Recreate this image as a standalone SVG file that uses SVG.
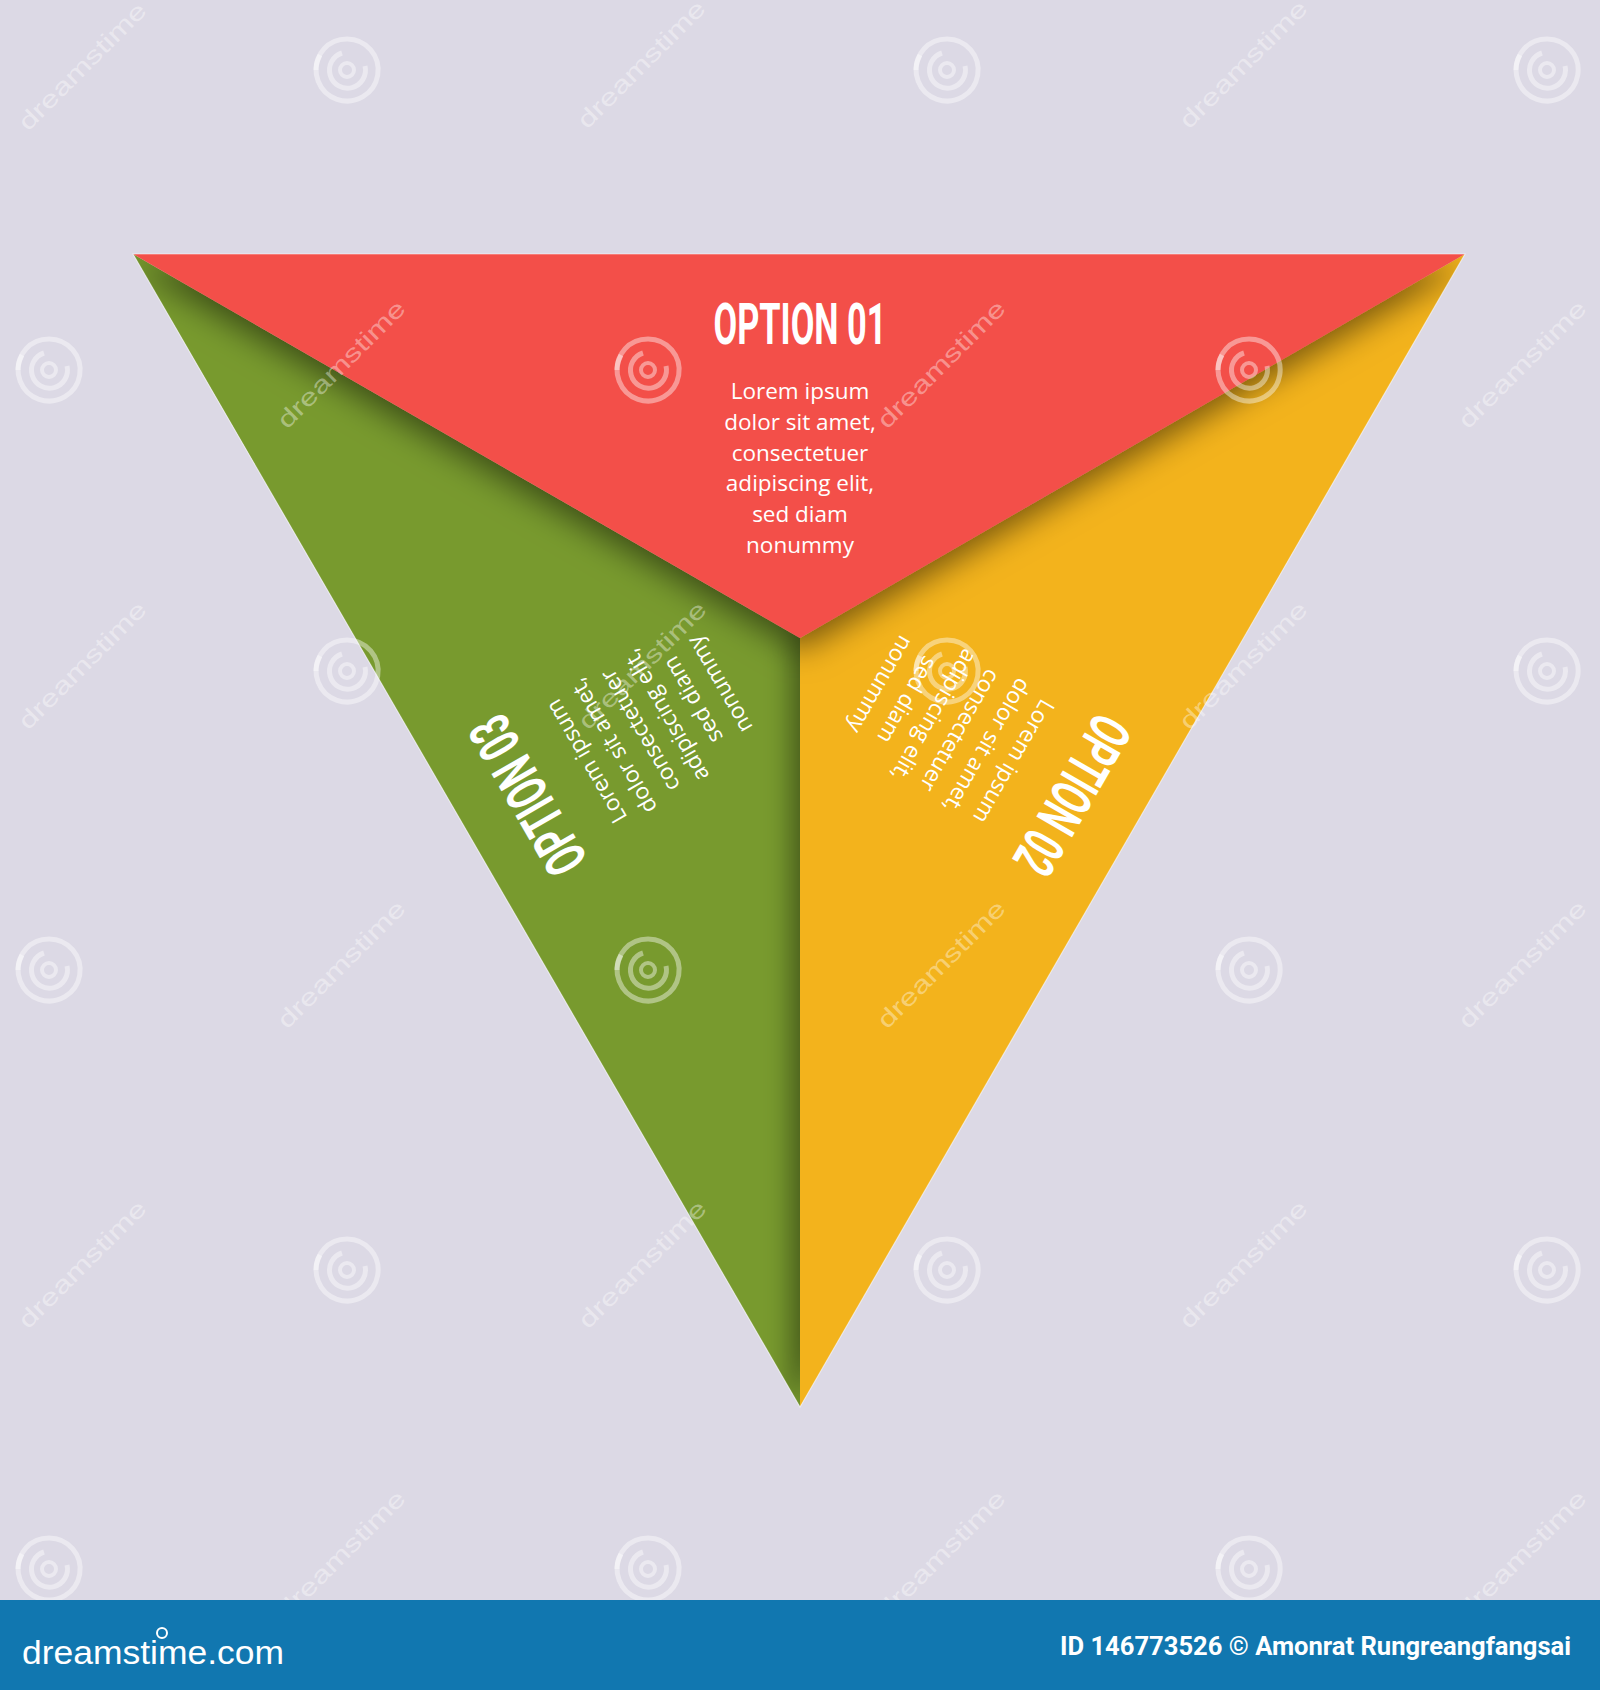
<svg xmlns="http://www.w3.org/2000/svg" xmlns:xlink="http://www.w3.org/1999/xlink" width="1600" height="1690" viewBox="0 0 1600 1690">
<style>
.title{font-family:Roboto,"Liberation Sans",sans-serif;font-weight:700;font-size:58px;fill:#ffffff;text-anchor:middle}
.body{font-family:"Open Sans","Liberation Sans",sans-serif;font-size:22.5px;fill:#ffffff;text-anchor:middle}
.wmt{font-family:"Liberation Sans",sans-serif;font-size:24px;fill:#ffffff;fill-opacity:0.4;text-anchor:middle}
.sp{fill:none;stroke:#ffffff;stroke-opacity:0.42}
.logo{font-family:"Liberation Sans",sans-serif;font-weight:400;font-size:33px;fill:#ffffff}
.credit{font-family:Roboto,"Liberation Sans",sans-serif;font-weight:700;font-size:25px;fill:#ffffff;text-anchor:end}
</style>
<defs>
<clipPath id="tri"><polygon points="133,254 1465,254 800,1407"/></clipPath>
<filter id="shRed" x="-10%" y="-10%" width="120%" height="140%">
<feDropShadow dx="0" dy="12" stdDeviation="16" flood-color="#000" flood-opacity="0.5"/>
</filter>
<filter id="shYel" x="-20%" y="-10%" width="140%" height="120%">
<feDropShadow dx="-9" dy="0" stdDeviation="13" flood-color="#000" flood-opacity="0.42"/>
</filter>
<symbol id="spiral" viewBox="-40 -40 80 80" overflow="visible">
<path class="sp" stroke-width="5" d="M 0,-31 A 31,31 0 1 1 -27,-15"/>
<path class="sp" stroke-width="5" d="M 0,-31 C -20,-31 -31,-15 -31,0 M 18,-4 A 18,18 0 1 1 -5,-17"/>
<circle class="sp" stroke-width="4" cx="0" cy="0" r="7"/>
</symbol>
</defs>
<rect x="0" y="0" width="1600" height="1690" fill="#DCD9E5"/>

<g clip-path="url(#tri)">
<g id="node-option03">
<polygon points="133,254 800,638 800,1407" fill="#789A2E"/>
</g>
<g id="node-option02" filter="url(#shYel)">
<polygon points="1465,254 800,638 800,1407" fill="#F3B31A"/>
</g>
<g id="node-option01" filter="url(#shRed)">
<polygon points="133,254 1465,254 800,638" fill="#F3504A"/>
</g>
</g>
<polygon points="133,254 1465,254 800,1407" fill="none" stroke="#ffffff" stroke-opacity="0.5" stroke-width="1.2"/>

<g id="label-option01">
<text class="title" x="800" y="344" textLength="173" lengthAdjust="spacingAndGlyphs">OPTION 01</text>
<text class="body" x="800" y="399">Lorem ipsum</text>
<text class="body" x="800" y="430">dolor sit amet,</text>
<text class="body" x="800" y="461">consectetuer</text>
<text class="body" x="800" y="491">adipiscing elit,</text>
<text class="body" x="800" y="522">sed diam</text>
<text class="body" x="800" y="553">nonummy</text>
</g>
<g id="label-option02" transform="rotate(120 800 638)">
<text class="title" x="800" y="344" textLength="173" lengthAdjust="spacingAndGlyphs">OPTION 02</text>
<text class="body" x="800" y="399">Lorem ipsum</text>
<text class="body" x="800" y="430">dolor sit amet,</text>
<text class="body" x="800" y="461">consectetuer</text>
<text class="body" x="800" y="491">adipiscing elit,</text>
<text class="body" x="800" y="522">sed diam</text>
<text class="body" x="800" y="553">nonummy</text>
</g>
<g id="label-option03" transform="rotate(-120 800 638)">
<text class="title" x="800" y="344" textLength="173" lengthAdjust="spacingAndGlyphs">OPTION 03</text>
<text class="body" x="800" y="399">Lorem ipsum</text>
<text class="body" x="800" y="430">dolor sit amet,</text>
<text class="body" x="800" y="461">consectetuer</text>
<text class="body" x="800" y="491">adipiscing elit,</text>
<text class="body" x="800" y="522">sed diam</text>
<text class="body" x="800" y="553">nonummy</text>
</g>

<g id="connectors"></g>

<g id="watermark">
<use href="#spiral" x="307" y="30" width="80" height="80"/>
<use href="#spiral" x="907" y="30" width="80" height="80"/>
<use href="#spiral" x="1507" y="30" width="80" height="80"/>
<use href="#spiral" x="9" y="330" width="80" height="80"/>
<use href="#spiral" x="608" y="330" width="80" height="80"/>
<use href="#spiral" x="1209" y="330" width="80" height="80"/>
<use href="#spiral" x="307" y="631" width="80" height="80"/>
<use href="#spiral" x="907" y="631" width="80" height="80"/>
<use href="#spiral" x="1507" y="631" width="80" height="80"/>
<use href="#spiral" x="9" y="930" width="80" height="80"/>
<use href="#spiral" x="608" y="930" width="80" height="80"/>
<use href="#spiral" x="1209" y="930" width="80" height="80"/>
<use href="#spiral" x="307" y="1230" width="80" height="80"/>
<use href="#spiral" x="907" y="1230" width="80" height="80"/>
<use href="#spiral" x="1507" y="1230" width="80" height="80"/>
<use href="#spiral" x="9" y="1529" width="80" height="80"/>
<use href="#spiral" x="608" y="1529" width="80" height="80"/>
<use href="#spiral" x="1209" y="1529" width="80" height="80"/>
<text class="wmt" transform="translate(88 72) rotate(-45)" textLength="170" lengthAdjust="spacingAndGlyphs">dreamstime</text>
<text class="wmt" transform="translate(647 70) rotate(-45)" textLength="170" lengthAdjust="spacingAndGlyphs">dreamstime</text>
<text class="wmt" transform="translate(1249 70) rotate(-45)" textLength="170" lengthAdjust="spacingAndGlyphs">dreamstime</text>
<text class="wmt" transform="translate(347 370) rotate(-45)" textLength="170" lengthAdjust="spacingAndGlyphs">dreamstime</text>
<text class="wmt" transform="translate(947 370) rotate(-45)" textLength="170" lengthAdjust="spacingAndGlyphs">dreamstime</text>
<text class="wmt" transform="translate(1528 370) rotate(-45)" textLength="170" lengthAdjust="spacingAndGlyphs">dreamstime</text>
<text class="wmt" transform="translate(88 671) rotate(-45)" textLength="170" lengthAdjust="spacingAndGlyphs">dreamstime</text>
<text class="wmt" transform="translate(648 671) rotate(-45)" textLength="170" lengthAdjust="spacingAndGlyphs">dreamstime</text>
<text class="wmt" transform="translate(1249 671) rotate(-45)" textLength="170" lengthAdjust="spacingAndGlyphs">dreamstime</text>
<text class="wmt" transform="translate(347 970) rotate(-45)" textLength="170" lengthAdjust="spacingAndGlyphs">dreamstime</text>
<text class="wmt" transform="translate(947 970) rotate(-45)" textLength="170" lengthAdjust="spacingAndGlyphs">dreamstime</text>
<text class="wmt" transform="translate(1528 970) rotate(-45)" textLength="170" lengthAdjust="spacingAndGlyphs">dreamstime</text>
<text class="wmt" transform="translate(88 1270) rotate(-45)" textLength="170" lengthAdjust="spacingAndGlyphs">dreamstime</text>
<text class="wmt" transform="translate(648 1270) rotate(-45)" textLength="170" lengthAdjust="spacingAndGlyphs">dreamstime</text>
<text class="wmt" transform="translate(1249 1270) rotate(-45)" textLength="170" lengthAdjust="spacingAndGlyphs">dreamstime</text>
<text class="wmt" transform="translate(347 1560) rotate(-45)" textLength="170" lengthAdjust="spacingAndGlyphs">dreamstime</text>
<text class="wmt" transform="translate(947 1560) rotate(-45)" textLength="170" lengthAdjust="spacingAndGlyphs">dreamstime</text>
<text class="wmt" transform="translate(1528 1560) rotate(-45)" textLength="170" lengthAdjust="spacingAndGlyphs">dreamstime</text>
</g>

<g id="footer">
<rect x="0" y="1600" width="1600" height="90" fill="#1177B0"/>
<text class="logo" x="22" y="1664" textLength="262" lengthAdjust="spacingAndGlyphs">dreamstime.com</text>
<circle cx="162" cy="1633" r="5" fill="none" stroke="#ffffff" stroke-width="2"/>
<text class="credit" x="1571" y="1655" textLength="511" lengthAdjust="spacingAndGlyphs">ID 146773526 © Amonrat Rungreangfangsai</text>
</g>
</svg>
